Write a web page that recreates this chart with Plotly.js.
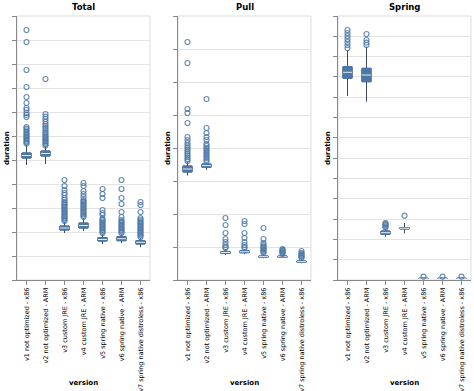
<!DOCTYPE html>
<html>
<head>
<meta charset="utf-8">
<script src="https://cdn.plot.ly/plotly-3.0.1.min.js"></script>
<style>html,body{margin:0;padding:0;background:#fff;}#chart{width:474px;height:391px;}</style>
</head>
<body>
<div id="chart"></div>
<script>
// ---- data ----
var categories = ["v1 not optimized - x86", "v2 not optimized - ARM", "v3 custom JRE - x86", "v4 custom JRE - ARM", "v5 spring native - x86", "v6 spring native - ARM", "v7 spring native distroless - x86"];
var panels = ["Total", "Pull", "Spring"];

var totalQ1 = [5083, 5167, 2083, 2167, 1625, 1638, 1500];
var totalMedian = [5188, 5271, 2167, 2271, 1688, 1721, 1571];
var totalQ3 = [5292, 5375, 2250, 2375, 1762, 1804, 1638];
var totalLower = [4792, 4833, 1958, 2042, 1500, 1542, 1362];
var totalUpper = [5625, 5542, 2417, 2583, 1917, 1917, 1750];
var totalOutliers = [
  [5680, 5740, 5800, 5860, 5920, 5980, 6040, 6100, 6170, 6240, 6310, 6375, 6790, 6880, 6958, 7083, 7167, 7375, 7625, 8042, 8750, 9917, 10417],
  [5600, 5660, 5720, 5780, 5840, 5900, 5960, 6020, 6100, 6167, 6250, 6333, 6420, 6500, 6600, 6708, 6810, 6917, 8375],
  [2460, 2520, 2580, 2640, 2700, 2760, 2820, 2880, 2940, 3000, 3060, 3120, 3180, 3250, 3333, 3417, 3542, 3625, 3750, 3917, 4167],
  [2620, 2680, 2740, 2800, 2860, 2920, 2980, 3040, 3100, 3160, 3220, 3280, 3333, 3458, 3583, 3708, 3917, 4042],
  [1960, 2020, 2080, 2140, 2200, 2260, 2320, 2380, 2440, 2500, 2550, 2708, 2792, 2917, 3417, 3583, 3792],
  [1960, 2020, 2080, 2140, 2200, 2260, 2320, 2380, 2440, 2500, 2625, 2833, 3167, 3417, 3792, 4167],
  [1790, 1850, 1910, 1970, 2030, 2090, 2150, 2210, 2270, 2330, 2390, 2450, 2520, 2583, 2833, 3125, 3250]
];

var pullQ1 = [3273, 3415, 803, 827, 688, 688, 536];
var pullMedian = [3364, 3467, 833, 858, 706, 706, 555];
var pullQ3 = [3455, 3515, 864, 888, 727, 727, 576];
var pullLower = [3167, 3333, 758, 779, 658, 667, 506];
var pullUpper = [3576, 3545, 939, 939, 788, 758, 636];
var pullOutliers = [
  [3606, 3660, 3720, 3780, 3840, 3900, 3960, 4020, 4080, 4152, 4242, 4333, 4758, 5061, 5182, 6576, 7212],
  [3580, 3640, 3700, 3760, 3820, 3880, 3940, 4000, 4060, 4121, 4242, 4333, 4455, 4606, 5485],
  [970, 1000, 1061, 1152, 1242, 1424, 1667, 1879],
  [970, 1000, 1061, 1152, 1273, 1424, 1697, 1788],
  [820, 860, 900, 940, 980, 1020, 1060, 1121, 1242, 1576],
  [788, 820, 850, 880, 910, 939],
  [667, 700, 730, 760, 790, 818, 879]
];

var springQ1 = [4966, 4882, 1125, 1256, 37, 37, 37];
var springMedian = [5114, 5047, 1165, 1273, 43, 43, 43];
var springQ3 = [5252, 5212, 1206, 1293, 49, 49, 49];
var springLower = [4530, 4390, 1066, 1150, 25, 25, 25];
var springUpper = [5663, 5744, 1256, 1403, 60, 60, 60];
var springOutliers = [
  [5712, 5786, 5860, 5934, 6007, 6081, 6155],
  [5786, 5843, 5909, 6057],
  [1290, 1320, 1350, 1380, 1403],
  [1583],
  [85],
  [85],
  [85]
];

var yMax = [11000, 8000, 6500];
var yStep = [1000, 1000, 500];

// ---- build ----
var BLUE = '#4c78a8';
var FONT = 'DejaVu Sans, Verdana, sans-serif';
var W = 474, H = 391;
var xDomains = [[17 / W, 150 / W], [178 / W, 311 / W], [338 / W, 471 / W]];
var yDomain = [(H - 280) / H, (H - 16) / H];

var stats = [
  [totalQ1, totalMedian, totalQ3, totalLower, totalUpper, totalOutliers],
  [pullQ1, pullMedian, pullQ3, pullLower, pullUpper, pullOutliers],
  [springQ1, springMedian, springQ3, springLower, springUpper, springOutliers]
];

var traces = [];
var layout = {
  width: W, height: H,
  margin: {l: 0, r: 0, t: 0, b: 0},
  paper_bgcolor: '#fff', plot_bgcolor: '#fff',
  showlegend: false,
  font: {family: FONT, color: '#000'},
  shapes: [], annotations: []
};

stats.forEach(function (s, i) {
  var xa = i === 0 ? 'x' : 'x' + (i + 1);
  var ya = i === 0 ? 'y' : 'y' + (i + 1);
  // whiskers (dark)
  traces.push({
    type: 'box', x: categories, q1: s[0], median: s[1], q3: s[2],
    lowerfence: s[3], upperfence: s[4], xaxis: xa, yaxis: ya,
    width: 0.48, whiskerwidth: 0, boxpoints: false,
    fillcolor: BLUE, line: {color: '#3b4a5e', width: 1}, hoverinfo: 'skip'
  });
  // box body
  traces.push({
    type: 'box', x: categories, q1: s[0], median: s[1], q3: s[2],
    lowerfence: s[0], upperfence: s[2], xaxis: xa, yaxis: ya,
    width: 0.48, whiskerwidth: 0, boxpoints: false,
    fillcolor: BLUE, line: {color: BLUE, width: 1}, hoverinfo: 'skip'
  });
  // median tick
  traces.push({
    type: 'scatter', mode: 'markers', x: categories, y: s[1], xaxis: xa, yaxis: ya,
    marker: {symbol: 'line-ew', size: 6.4, line: {color: 'rgba(255,255,255,0.85)', width: 1}},
    hoverinfo: 'skip'
  });
  // outliers
  var ox = [], oy = [];
  s[5].forEach(function (arr, k) {
    arr.forEach(function (v) { ox.push(categories[k]); oy.push(v); });
  });
  traces.push({
    type: 'scatter', mode: 'markers', x: ox, y: oy, xaxis: xa, yaxis: ya,
    marker: {symbol: 'circle-open', size: 5, color: 'rgba(76,120,168,0.85)', line: {width: 1.2}},
    hoverinfo: 'skip'
  });

  var xKey = i === 0 ? 'xaxis' : 'xaxis' + (i + 1);
  var yKey = i === 0 ? 'yaxis' : 'yaxis' + (i + 1);
  layout[xKey] = {
    domain: xDomains[i], anchor: ya, type: 'category',
    categoryorder: 'array', categoryarray: categories, range: [-0.5, 6.5],
    showgrid: false, zeroline: false, showline: true, linecolor: '#888', linewidth: 1,
    ticks: 'outside', ticklen: 4, tickcolor: '#888', tickwidth: 1,
    tickangle: -90, tickfont: {family: FONT, size: 6.5, color: '#000'}, automargin: false
  };
  layout[yKey] = {
    domain: yDomain, anchor: xa, range: [0, yMax[i]], dtick: yStep[i], tick0: 0,
    showgrid: true, gridcolor: '#e3e3e3', gridwidth: 1, zeroline: false,
    showline: true, linecolor: '#888', linewidth: 1,
    ticks: 'outside', ticklen: 4, tickcolor: '#888', tickwidth: 1,
    showticklabels: false, automargin: false
  };
  layout.shapes.push({
    type: 'rect', xref: xa + ' domain', yref: ya + ' domain', x0: 0, x1: 1, y0: 0, y1: 1,
    line: {color: '#dddddd', width: 1}, layer: 'below'
  });
  var cx = (xDomains[i][0] + xDomains[i][1]) / 2;
  layout.annotations.push({
    text: '<b>' + panels[i] + '</b>', xref: 'paper', yref: 'paper',
    x: cx, y: (H - 7) / H, xanchor: 'center', yanchor: 'middle', showarrow: false,
    font: {family: FONT, size: 8.5, color: '#000'}
  });
  layout.annotations.push({
    text: '<b>version</b>', xref: 'paper', yref: 'paper',
    x: cx, y: (H - 383) / H, xanchor: 'center', yanchor: 'middle', showarrow: false,
    font: {family: FONT, size: 7, color: '#000'}
  });
  layout.annotations.push({
    text: '<b>duration</b>', xref: 'paper', yref: 'paper', textangle: -90,
    x: (xDomains[i][0] * W - 10) / W, y: (H - 148) / H, xanchor: 'center', yanchor: 'middle', showarrow: false,
    font: {family: FONT, size: 7, color: '#000'}
  });
});

Plotly.newPlot('chart', traces, layout, {displayModeBar: false, staticPlot: true});
</script>
</body>
</html>
